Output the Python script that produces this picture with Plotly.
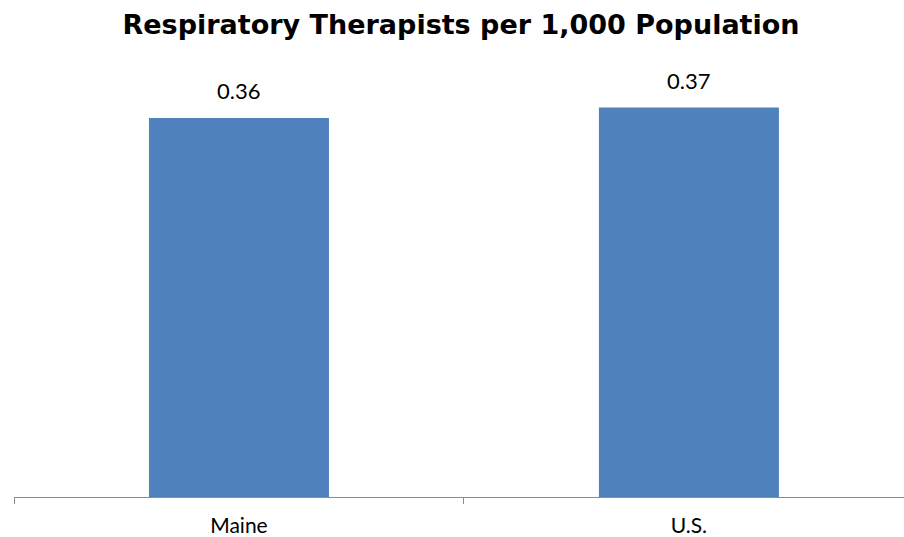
import plotly.graph_objects as go

# Respiratory therapists per 1,000 population
regions = ["Maine", "U.S."]
rates = [0.36, 0.37]
rate_labels = ["0.36", "0.37"]

BAR_COLOR = "#4F81BD"
AXIS_COLOR = "#8C8C8C"
FONT = "Century Gothic, Lato, sans-serif"
TITLE_FONT = "Century Gothic, DejaVu Sans, sans-serif"

fig = go.Figure(
    go.Bar(
        x=regions,
        y=rates,
        width=0.4,
        marker=dict(color=BAR_COLOR, line=dict(width=0)),
        hoverinfo="skip",
    )
)

# value labels above each bar
for region, rate, label in zip(regions, rates, rate_labels):
    fig.add_annotation(
        x=region, y=rate, text=label, showarrow=False,
        yanchor="bottom", yshift=12,
        font=dict(family=FONT, size=22, color="#000000"),
    )

fig.update_layout(
    width=904,
    height=537,
    margin=dict(l=14, r=0, t=76, b=40),
    paper_bgcolor="white",
    plot_bgcolor="white",
    showlegend=False,
    title=dict(
        text="<b>Respiratory Therapists per 1,000 Population</b>",
        x=0.51, xanchor="center",
        y=0.955, yanchor="middle",
        font=dict(family=TITLE_FONT, size=27, color="#000000"),
    ),
    xaxis=dict(
        type="category",
        range=[-0.5, 1.478],
        showline=True,
        linecolor=AXIS_COLOR,
        linewidth=1,
        ticks="outside",
        tickson="boundaries",
        ticklen=6,
        tickcolor=AXIS_COLOR,
        ticklabelstandoff=10,
        tickfont=dict(family=FONT, size=21, color="#000000"),
        showgrid=False,
        zeroline=False,
    ),
    yaxis=dict(
        range=[0, 0.4],
        visible=False,
        showgrid=False,
        zeroline=False,
    ),
)

fig.write_html("out.html")
